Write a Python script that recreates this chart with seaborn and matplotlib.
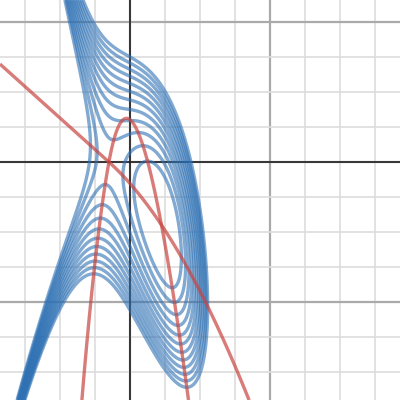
import numpy as np
import matplotlib
matplotlib.use("Agg")
import matplotlib.pyplot as plt
import seaborn as sns

# view window in grid units (one minor grid cell = 1)
x_range = [-3.71, 7.71]
y_range = [-6.8, 4.63]

# critical points: saddle and minimum
saddle = [-0.6, 0.0]
minimum = [0.9, -1.8]
left_slope = -0.9
stiffness = 0.13
levels = [-0.06, 0.1, 0.26, 0.42, 0.58, 0.74, 0.9, 1.06, 1.22, 1.38, 1.54, 1.7]

sns.set_style("white")

x = np.linspace(x_range[0], x_range[1], 800)
y = np.linspace(y_range[0], y_range[1], 800)
X, Y = np.meshgrid(x, y)
d = X - saddle[0]
dm = minimum[0] - saddle[0]
bend = (minimum[1] - saddle[1] - left_slope * dm) / dm ** 2
Yc = saddle[1] + left_slope * d + bend * np.clip(d, 0, None) ** 2
T = Y - Yc
s1, s2 = saddle[0], minimum[0]
P = X ** 3 / 3 - (s1 + s2) / 2 * X ** 2 + s1 * s2 * X
F = stiffness * T ** 2 + P
Fy, Fx = np.gradient(F, y, x)

fig = plt.figure(figsize=(4, 4), dpi=100)
ax = fig.add_axes([0, 0, 1, 1])
for k in range(-4, 8):
    ax.axvline(k, color="#aaaaaa" if k % 4 == 0 else "#dddddd", lw=1.6 if k % 4 == 0 else 1.2, zorder=0)
for k in range(-7, 5):
    ax.axhline(k, color="#aaaaaa" if k % 4 == 0 else "#dddddd", lw=1.6 if k % 4 == 0 else 1.2, zorder=0)
ax.axvline(0, color="#222222", lw=1.2, zorder=1)
ax.axhline(0, color="#222222", lw=1.2, zorder=1)

ax.contour(X, Y, F, levels=levels, colors="#2d70b3", alpha=0.6, linewidths=2.4,
           linestyles="solid", zorder=2)
ax.contour(X, Y, Fx, levels=[0], colors="#c74440", alpha=0.7, linewidths=2.4, zorder=3)
ax.contour(X, Y, Fy, levels=[0], colors="#c74440", alpha=0.7, linewidths=2.4, zorder=3)

ax.set_xlim(x_range)
ax.set_ylim(y_range)
ax.set_xticks([])
ax.set_yticks([])
for s in ax.spines.values():
    s.set_visible(False)
fig.savefig("out.png", dpi=100)
